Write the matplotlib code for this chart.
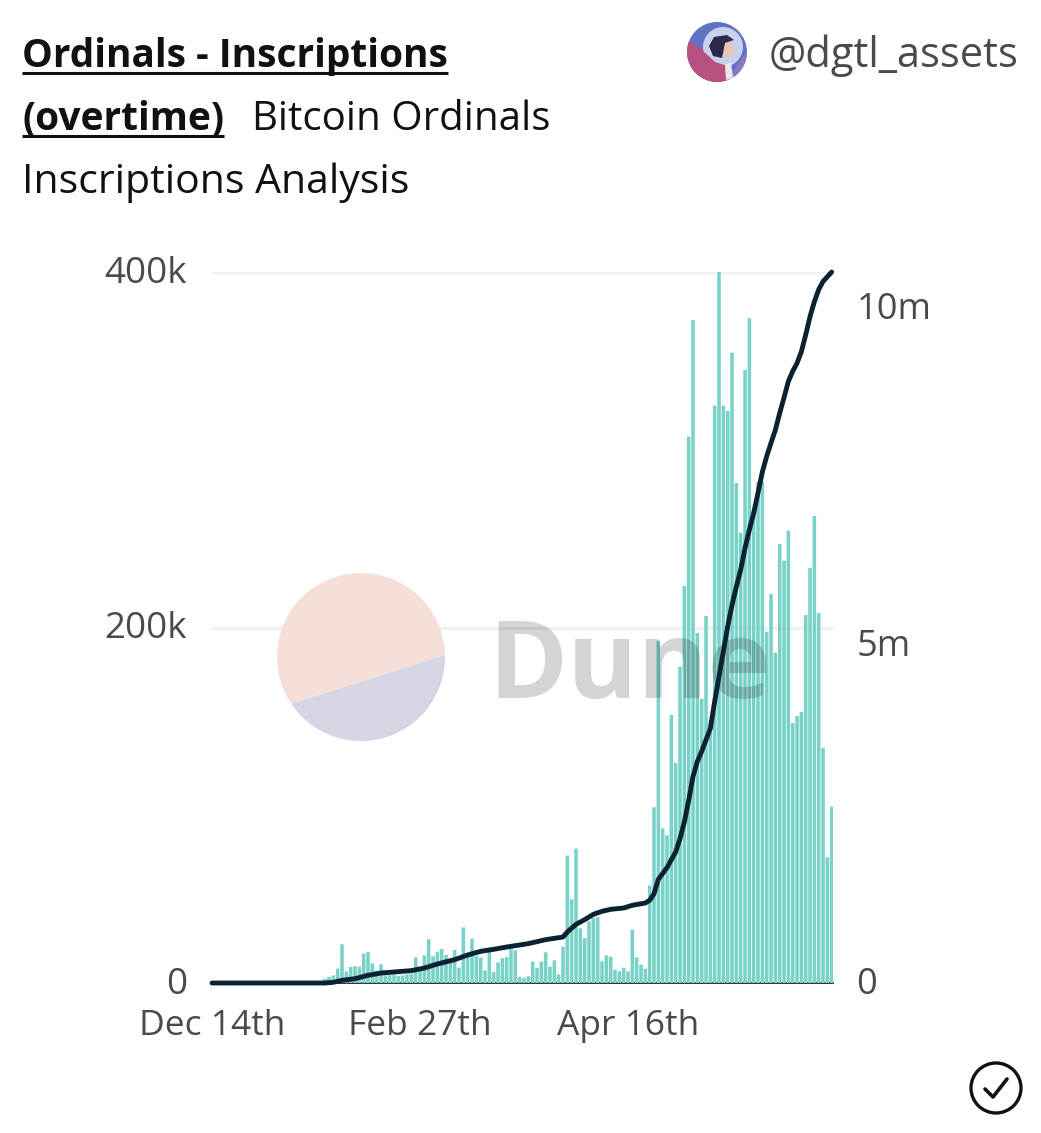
import numpy as np
import matplotlib
matplotlib.use('Agg')
import matplotlib.pyplot as plt
from matplotlib.patches import Circle, Polygon
from matplotlib.transforms import ScaledTranslation

# daily inscriptions (thousands), first 26 days are empty
daily_k = [0] * 26 + [
    2.4, 3.4, 4.3, 8.1, 21.8, 6.6, 9, 9.4, 9.2, 16.5, 17.4, 11.1, 6.8, 10.5, 4.3, 4.7, 4.7, 3.9, 4.3, 4.9,
    5.3, 14.4, 6.8, 15.6, 24.6, 15, 17.6, 19.1, 15.8, 11.8, 18.6, 8.6, 31.3, 15.6, 25, 15.2, 14.3, 7.1, 19.9, 6.2,
    11.6, 13.9, 14.6, 19.3, 18.4, 3.4, 2.8, 3.8, 12, 8.4, 12, 17.3, 9.2, 12.8, 4.9, 20.5, 71.7, 47.1, 75.6, 30.8,
    25.3, 34.7, 36.6, 37, 12.2, 15.6, 14.8, 7.5, 6.6, 8.6, 6.6, 30, 14.4, 10.3, 8.1, 54.8, 98.9, 192.6, 87, 83.1,
    150.8, 123.9, 177.9, 223.3, 307.3, 373, 196.9, 159.8, 206.5, 148, 324.8, 400, 324.8, 321.8, 354.6, 281.3, 253.3, 344.9, 374, 266,
    282, 282, 197.6, 218.8, 185.8, 247, 237.6, 254.5, 146.3, 150.2, 152.5, 207, 233.5, 262.7, 208.2, 132.2, 70.7, 99.2,
]

# running total (millions), read at these day positions
total_days = [0, 26, 28, 30, 33, 36, 39, 42, 46, 49, 52, 56, 59, 62, 65, 68, 70, 73, 77, 81, 82, 84, 86, 88, 90, 92, 95, 97,
              100, 101, 102, 103, 105, 107, 108, 109, 110, 111, 112, 113, 114, 115, 116, 117, 118, 119, 120, 121, 122, 123,
              124, 125, 126, 127, 128, 129, 130, 131, 132, 133, 134, 135, 136, 137, 138, 139, 140, 141, 142, 143]
total_m = [0, 0, 0.01, 0.04, 0.064, 0.114, 0.148, 0.163, 0.183, 0.222, 0.281, 0.346, 0.415, 0.469, 0.499, 0.533, 0.553, 0.583,
           0.642, 0.681, 0.756, 0.869, 0.938, 1.017, 1.062, 1.091, 1.111, 1.151, 1.185, 1.225, 1.323, 1.536, 1.709, 1.941,
           2.138, 2.385, 2.706, 3.06, 3.28, 3.43, 3.6, 3.77, 4.17, 4.54, 4.91, 5.28, 5.6, 5.87, 6.12, 6.44,
           6.71, 6.96, 7.26, 7.57, 7.8, 8.0, 8.19, 8.44, 8.67, 8.91, 9.06, 9.18, 9.35, 9.6, 9.87, 10.09, 10.27, 10.39, 10.46, 10.53]

date_ticks = [0, 48, 96]
date_labels = ['Dec 14th', 'Feb 27th', 'Apr 16th']
left_ticks = [0, 200, 400]
left_labels = ['0', '200k', '400k']
right_ticks = [0, 5, 10]
right_labels = ['0', '5m', '10m']

plt.rcParams['font.family'] = ['Open Sans', 'DejaVu Sans']
W, H = 1041, 1133
fig = plt.figure(figsize=(W / 100, H / 100), dpi=100, facecolor='white')
TXT = '#4a4a4a'
nudge_up = ScaledTranslation(0, 2.5 / 100, fig.dpi_scale_trans)

# chart box in pixels: x 212-833, y 272-983
rect = [212 / W, 1 - 983 / H, 621 / W, 711 / H]
ax = fig.add_axes(rect, zorder=1)
days = np.arange(len(daily_k))
ax.bar(days, daily_k, width=0.82, color='#79D2C8', zorder=3, snap=False)
ax.set_xlim(0, 143.3)
ax.set_ylim(0, 400)
ax.set_yticks(left_ticks, left_labels)
ax.set_xticks(date_ticks, date_labels)
ax.tick_params(axis='x', length=0, labelsize=25.5, labelcolor=TXT, pad=19)
ax.tick_params(axis='y', length=0, labelsize=26.5, labelcolor=TXT, pad=18)
for lab in ax.get_yticklabels():
    lab.set_transform(lab.get_transform() + nudge_up)
ax.yaxis.grid(True, color='#F0F0F0', linewidth=2.2, zorder=0)
ax.set_axisbelow(True)
for s in ['top', 'right', 'left']:
    ax.spines[s].set_visible(False)
ax.spines['bottom'].set_color('#111111')
ax.spines['bottom'].set_linewidth(1.2)

# pixel-space overlay for watermark, header and icons
ov = fig.add_axes([0, 0, 1, 1], zorder=2)
ov.set_xlim(0, W)
ov.set_ylim(H, 0)
ov.axis('off')
ov.patch.set_alpha(0)

cx, cy, r = 361, 657, 84
t_top = np.linspace(np.radians(-1.4), np.radians(-214), 80)
ov.add_patch(Polygon(np.c_[cx + r * np.cos(t_top), cy + r * np.sin(t_top)], fc='#F6DFD9', ec='none'))
t_low = np.linspace(np.radians(146), np.radians(-1.4), 80)
ov.add_patch(Polygon(np.c_[cx + r * np.cos(t_low), cy + r * np.sin(t_low)], fc='#D5D5E3', ec='none'))
ov.text(488, 698, 'Dune', fontsize=77, fontweight='bold', color='black', alpha=0.17, ha='left', va='baseline')

# right axis with the running total on top of the watermark
ax2 = fig.add_axes(rect, zorder=3)
ax2.patch.set_visible(False)
ax2.plot(total_days, total_m, color='#0B2233', linewidth=3.5, solid_capstyle='round', solid_joinstyle='round', clip_on=False)
ax2.set_xlim(0, 143.3)
ax2.set_ylim(0, 10.53)
ax2.xaxis.set_visible(False)
ax2.yaxis.tick_right()
ax2.set_yticks(right_ticks, right_labels)
ax2.tick_params(axis='y', length=0, labelsize=26, labelcolor=TXT, pad=17)
for lab in ax2.get_yticklabels():
    lab.set_transform(lab.get_transform() + nudge_up)
for s in ax2.spines.values():
    s.set_visible(False)

# header
t1 = ov.text(22, 67, 'Ordinals - Inscriptions', fontsize=28, fontweight='bold', color='#111111')
t2 = ov.text(22, 130, '(overtime)', fontsize=28, fontweight='bold', color='#111111')
ov.text(252, 130, 'Bitcoin Ordinals', fontsize=29, color='#111111')
ov.text(22, 193, 'Inscriptions Analysis', fontsize=29.5, color='#111111')
ov.text(769, 67, '@dgtl_assets', fontsize=30, color=TXT)
fig.canvas.draw()
for t, uy in [(t1, 73), (t2, 136)]:
    bb = t.get_window_extent()
    ov.plot([bb.x0, bb.x1], [uy, uy], color='#111111', linewidth=2.2, solid_capstyle='butt')

# avatar, rough shapes
ac = Circle((717, 52), 30, fc='#5F73C4', ec='none')
ov.add_patch(ac)
for patch in [
    Circle((723, 47), 20, fc='#C7D1EC', ec='none'),
    Polygon([[726, 82], [749, 48], [749, 82]], fc='#8C78C0', ec='none'),
    Polygon([[685, 39], [700, 48], [715, 62], [728, 66], [728, 84], [685, 84]], fc='#B8517F', ec='none'),
    Circle((727, 50), 7, fc='#E9C5B5', ec='none'),
    Polygon([[709, 46], [714, 37], [727, 35], [734, 40], [725, 43], [722, 58], [713, 56]], fc='#2B2A4C', ec='none'),
    Polygon([[725, 65], [731, 62], [733, 78], [726, 80]], fc='#EFE6EC', ec='none'),
]:
    ov.add_patch(patch)
    patch.set_clip_path(ac)

# check badge
ov.add_patch(Circle((996, 1088), 25, fc='white', ec='#111111', lw=2.4))
ov.plot([985, 993, 1007], [1089, 1097, 1079], color='#111111', linewidth=2.6, solid_capstyle='round', solid_joinstyle='round')

fig.savefig('out.png', dpi=100)
